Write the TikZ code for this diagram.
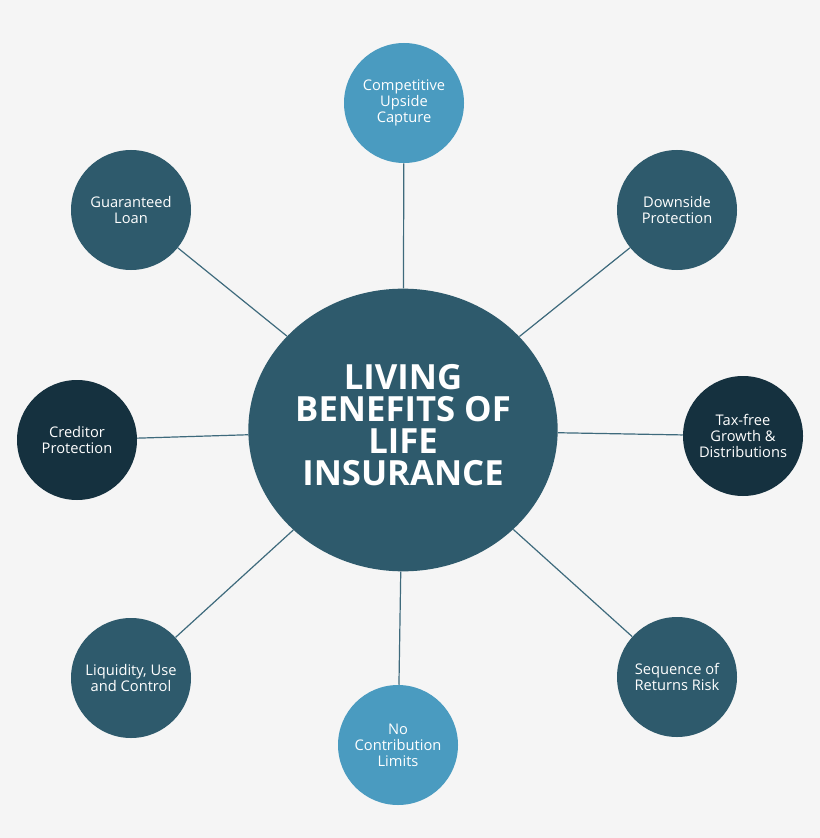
\documentclass[tikz,border=0pt]{standalone}
\usepackage{fontspec}
\usetikzlibrary{shapes.geometric}
\setmainfont{Open Sans}
\begin{document}
\begin{tikzpicture}[x=0.75pt,y=-0.75pt,
  sat/.style={circle,minimum size=90pt,inner sep=0pt,align=center,text=white,font=\fontsize{11}{12}\selectfont},
  mid/.style={sat,fill=midc},
  dk/.style={sat,fill=darkc},
  lt/.style={sat,fill=lightc},
  link/.style={draw=linec,line width=0.9pt}]
\definecolor{bgc}{HTML}{F5F5F5}
\definecolor{midc}{HTML}{2E5A6C}
\definecolor{darkc}{HTML}{15313F}
\definecolor{lightc}{HTML}{4A9BC0}
\definecolor{linec}{HTML}{3E6A7C}
\fill[bgc] (0,0) rectangle (820,838);
\useasboundingbox (0,0) rectangle (820,838);
\node[ellipse,fill=midc,minimum width=232pt,minimum height=212pt,inner sep=0pt] (c) at (403,430) {};
\node[text=white,align=center,font=\bfseries\fontsize{26}{24}\selectfont] (ct) at (403,425) {LIVING\\BENEFITS OF\\LIFE\\INSURANCE};
\node[lt] (a) at (404,103) {Competitive\\Upside\\Capture};
\node[mid] (b) at (131,210) {Guaranteed\\Loan};
\node[mid] (d) at (677,210) {Downside\\Protection};
\node[dk] (e) at (77,440) {Creditor\\Protection};
\node[dk] (f) at (743,436) {Tax-free\\Growth \&\\Distributions};
\node[mid] (g) at (131,678) {Liquidity, Use\\and Control};
\node[mid] (h) at (677,677) {Sequence of\\Returns Risk};
\node[lt] (i) at (398,745) {No\\Contribution\\Limits};
\foreach \n in {a,b,d,e,f,g,h,i}{\draw[link] (c) -- (\n);}
\end{tikzpicture}
\end{document}
